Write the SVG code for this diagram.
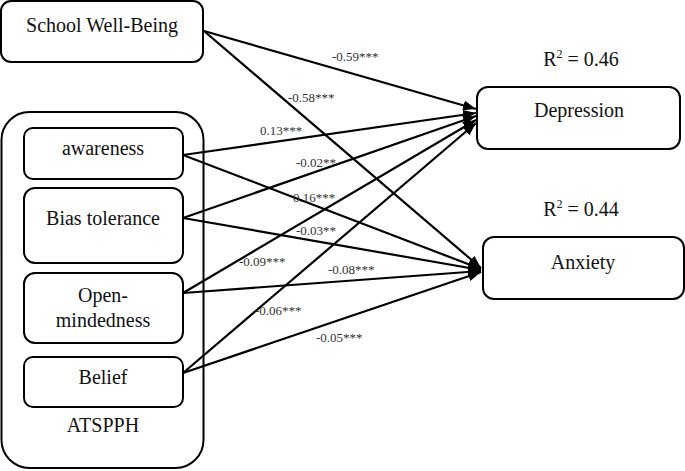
<svg xmlns="http://www.w3.org/2000/svg" width="685" height="471" viewBox="0 0 685 471">
<style>
.box{fill:#fff;stroke:#000;stroke-width:2}
.t{font-family:"Liberation Serif","Times New Roman",serif;font-size:20px;fill:#111;text-anchor:middle}
.l{font-family:"Liberation Serif","Times New Roman",serif;font-size:13px;fill:#333}
.c{stroke:#000;stroke-width:2.2;fill:none;marker-end:url(#ah)}
</style>
<defs>
<marker id="ah" markerUnits="userSpaceOnUse" markerWidth="14" markerHeight="10" refX="13" refY="5" orient="auto">
<path d="M0,0 L13,5 L0,10 Z" fill="#000"/>
</marker>
</defs>
<rect width="685" height="471" fill="#fff"/>
<g id="school">
<rect class="box" x="1" y="1" width="202" height="61" rx="10"/>
<text class="t" x="102" y="32">School Well-Being</text>
</g>
<g id="atspph">
<rect class="box" x="1.5" y="112" width="202" height="356" rx="28"/>
<text class="t" x="103" y="432">ATSPPH</text>
</g>
<g id="awareness">
<rect class="box" x="24" y="128" width="159" height="51" rx="9"/>
<text class="t" x="103" y="155">awareness</text>
</g>
<g id="bias">
<rect class="box" x="24" y="188" width="159" height="75" rx="11"/>
<text class="t" x="103" y="225">Bias tolerance</text>
</g>
<g id="open">
<rect class="box" x="24" y="273" width="159" height="70" rx="11"/>
<text class="t" x="103" y="302">Open-</text>
<text class="t" x="103" y="327">mindedness</text>
</g>
<g id="belief">
<rect class="box" x="24" y="357" width="159" height="50" rx="9"/>
<text class="t" x="103" y="384">Belief</text>
</g>
<g id="depression">
<rect class="box" x="477" y="87" width="203" height="62" rx="11"/>
<text class="t" x="579" y="117">Depression</text>
<text class="t" x="581" y="66">R<tspan font-size="12" dy="-8">2</tspan><tspan dy="8"> = 0.46</tspan></text>
</g>
<g id="anxiety">
<rect class="box" x="483" y="237" width="201" height="62" rx="11"/>
<text class="t" x="583" y="269">Anxiety</text>
<text class="t" x="581" y="216">R<tspan font-size="12" dy="-8">2</tspan><tspan dy="8"> = 0.44</tspan></text>
</g>
<g id="connectors">
<line class="c" x1="204" y1="31" x2="476" y2="109"/>
<line class="c" x1="204" y1="31" x2="481" y2="268"/>
<line class="c" x1="183" y1="155" x2="476" y2="113"/>
<line class="c" x1="183" y1="155" x2="481" y2="269"/>
<line class="c" x1="183" y1="218" x2="476" y2="116"/>
<line class="c" x1="183" y1="218" x2="481" y2="270"/>
<line class="c" x1="183" y1="293" x2="476" y2="120"/>
<line class="c" x1="183" y1="293" x2="481" y2="271"/>
<line class="c" x1="183" y1="373" x2="476" y2="123"/>
<line class="c" x1="183" y1="373" x2="481" y2="272"/>
</g>
<g id="labels">
<text class="l" x="332" y="61">-0.59***</text>
<text class="l" x="288" y="102">-0.58***</text>
<text class="l" x="260" y="135">0.13***</text>
<text class="l" x="296" y="167">-0.02**</text>
<text class="l" x="293" y="202">0.16***</text>
<text class="l" x="296" y="235">-0.03**</text>
<text class="l" x="239" y="266">-0.09***</text>
<text class="l" x="328" y="274">-0.08***</text>
<text class="l" x="255" y="315">-0.06***</text>
<text class="l" x="316" y="342">-0.05***</text>
</g>
</svg>
